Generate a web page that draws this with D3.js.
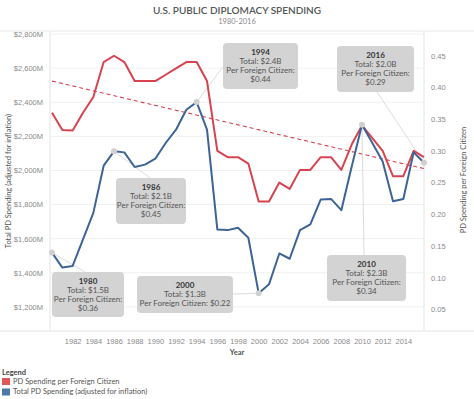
<!DOCTYPE html>
<meta charset="utf-8">
<head>
    <title>U.S. Public Diplomacy Spending</title>
    <script type="text/javascript" src="https://cdn.jsdelivr.net/npm/d3@7"></script>
    <style>
        body { margin: 0; background: #fff; font-family: Lato, "Open Sans", sans-serif; }
        .tick text { fill: #8a8a8a; font-size: 7.5px; }
        .domain { display: none; }
        .box-text { fill: #555; font-size: 8px; text-anchor: middle; dominant-baseline: middle; }
    </style>
</head>
<body>
<script>
    // data
    var years = d3.range(1980, 2017);
    var totalSpending = [1518, 1430, 1440, 1595, 1751, 2028, 2112, 2106, 2020, 2034,
        2069, 2161, 2239, 2356, 2401, 2239, 1654, 1650, 1664, 1605,
        1280, 1332, 1513, 1482, 1650, 1683, 1829, 1833, 1767, 2022,
        2268, 2161, 2053, 1819, 1833, 2106, 2045];
    var perCitizen = [0.36, 0.333, 0.332, 0.36, 0.385, 0.44, 0.45, 0.44, 0.41, 0.41,
        0.41, 0.42, 0.43, 0.44, 0.44, 0.41, 0.30, 0.29, 0.29, 0.28,
        0.22, 0.22, 0.25, 0.24, 0.27, 0.27, 0.29, 0.29, 0.27, 0.31,
        0.34, 0.32, 0.30, 0.26, 0.26, 0.30, 0.29];
    var trendYears = [1980, 2016];
    var trendValues = [0.41, 0.272];
    var leftTicks = [1200, 1400, 1600, 1800, 2000, 2200, 2400, 2600, 2800];
    var rightTicks = [0.05, 0.10, 0.15, 0.20, 0.25, 0.30, 0.35, 0.40, 0.45];
    var xTicks = d3.range(1982, 2015, 2);
    var annoYears = [1980, 1986, 1994, 2000, 2010, 2016];
    var annoTexts = [
        ["1980", "Total: $1.5B", "Per Foreign Citizen:", "$0.36"],
        ["1986", "Total: $2.1B", "Per Foreign Citizen:", "$0.45"],
        ["1994", "Total: $2.4B", "Per Foreign Citizen:", "$0.44"],
        ["2000", "Total: $1.3B", "Per Foreign Citizen: $0.22"],
        ["2010", "Total: $2.3B", "Per Foreign Citizen:", "$0.34"],
        ["2016", "Total: $2.0B", "Per Foreign Citizen:", "$0.29"]
    ];
    var legendLabels = ["PD Spending per Foreign Citizen", "Total PD Spending (adjusted for inflation)"];

    var width = 474, height = 399;
    var plot = {left: 50, right: 424, top: 31, bottom: 330};
    var red = "#d7434f", blue = "#3d6496";

    var svg = d3.select("body").append("svg")
        .attr("width", width)
        .attr("height", height);

    var x = d3.scaleLinear().domain([1980, 2016]).range([52, 424]);
    var yLeft = d3.scaleLinear().domain([1064, 2818]).range([plot.bottom, plot.top]);
    var yRight = d3.scaleLinear().domain([0.0175, 0.489]).range([plot.bottom, plot.top]);

    // title
    svg.append("text").attr("x", 237).attr("y", 14).attr("text-anchor", "middle")
        .style("font-size", "10px").style("font-weight", "600").style("fill", "#555")
        .text("U.S. PUBLIC DIPLOMACY SPENDING");
    svg.append("text").attr("x", 237).attr("y", 24).attr("text-anchor", "middle")
        .style("font-size", "7.5px").style("fill", "#888")
        .text("1980-2016");

    // frame lines
    svg.append("line").attr("x1", 0).attr("x2", width).attr("y1", plot.top).attr("y2", plot.top)
        .attr("stroke", "#e8e8e8");
    svg.append("line").attr("x1", 0).attr("x2", width).attr("y1", plot.bottom + 1).attr("y2", plot.bottom + 1)
        .attr("stroke", "#e3e3e3");
    [plot.left, plot.right].forEach(function(px) {
        svg.append("line").attr("x1", px).attr("x2", px).attr("y1", plot.top).attr("y2", plot.bottom)
            .attr("stroke", "#e3e3e3");
    });

    // gridlines
    svg.append("g").selectAll("line").data(leftTicks).enter().append("line")
        .attr("x1", plot.left).attr("x2", plot.right)
        .attr("y1", function(d) { return yLeft(d); })
        .attr("y2", function(d) { return yLeft(d); })
        .attr("stroke", "#f0f0f0");

    // axes
    svg.append("g").attr("transform", "translate(" + (plot.left - 4) + ",0)")
        .call(d3.axisLeft(yLeft).tickValues(leftTicks).tickSize(0)
            .tickFormat(function(d) { return "$" + d3.format(",")(d) + "M"; }));
    svg.append("g").attr("transform", "translate(" + (plot.right + 4) + ",0)")
        .call(d3.axisRight(yRight).tickValues(rightTicks).tickSize(0).tickFormat(d3.format(".2f")));
    svg.append("g").attr("transform", "translate(0," + (plot.bottom + 6) + ")")
        .call(d3.axisBottom(x).tickValues(xTicks).tickSize(0).tickFormat(d3.format("d")));

    svg.append("text").attr("transform", "translate(11,181) rotate(-90)").attr("text-anchor", "middle")
        .style("font-size", "7.5px").style("fill", "#555")
        .text("Total PD Spending (adjusted for inflation)");
    svg.append("text").attr("transform", "translate(466,180) rotate(-90)").attr("text-anchor", "middle")
        .style("font-size", "7.5px").style("fill", "#555")
        .text("PD Spending per Foreign Citizen");
    svg.append("text").attr("x", 237).attr("y", 355).attr("text-anchor", "middle")
        .style("font-size", "7.5px").style("font-weight", "700").style("fill", "#555")
        .text("Year");

    // trend line for per-citizen spending
    svg.append("line")
        .attr("x1", x(trendYears[0])).attr("y1", yRight(trendValues[0]))
        .attr("x2", x(trendYears[1])).attr("y2", yRight(trendValues[1]))
        .attr("stroke", red).attr("stroke-width", 1.1).attr("stroke-dasharray", "4,3");

    // annotation boxes (layout)
    var annoLayout = [
        {bx: 52, by: 272, bw: 72, bh: 45, ax: 85, ay: 272, series: "total"},
        {bx: 116, by: 178, bw: 70, bh: 46, ax: 150, ay: 178, series: "total"},
        {bx: 223, by: 43, bw: 75, bh: 46, ax: 223, ay: 67, series: "total"},
        {bx: 137, by: 276, bw: 96, bh: 37, ax: 233, ay: 294, series: "total"},
        {bx: 327, by: 255, bw: 79, bh: 46, ax: 364, ay: 255, series: "total"},
        {bx: 337, by: 46, bw: 77, bh: 46, ax: 377, ay: 92, series: "total"}
    ];

    var connectors = svg.append("g");
    annoYears.forEach(function(yr, i) {
        var L = annoLayout[i];
        var idx = years.indexOf(yr);
        connectors.append("line")
            .attr("x1", x(yr)).attr("y1", yLeft(totalSpending[idx]))
            .attr("x2", L.ax).attr("y2", L.ay)
            .attr("stroke", "#dcdcdc").attr("stroke-width", 1);
    });

    // lines
    var lineTotal = d3.line().x(function(d, i) { return x(years[i]); }).y(function(d) { return yLeft(d); });
    var linePer = d3.line().x(function(d, i) { return x(years[i]); }).y(function(d) { return yRight(d); });

    svg.append("path").datum(perCitizen).attr("d", linePer)
        .attr("fill", "none").attr("stroke", red).attr("stroke-width", 2).attr("stroke-linejoin", "round");
    svg.append("path").datum(totalSpending).attr("d", lineTotal)
        .attr("fill", "none").attr("stroke", blue).attr("stroke-width", 2).attr("stroke-linejoin", "round");

    // markers on annotated points
    svg.append("g").selectAll("circle").data(annoYears).enter().append("circle")
        .attr("cx", function(d) { return x(d); })
        .attr("cy", function(d) { return yLeft(totalSpending[years.indexOf(d)]); })
        .attr("r", 3).attr("fill", "#d0d0d0");

    var boxes = svg.append("g");
    annoYears.forEach(function(yr, i) {
        var L = annoLayout[i];
        var g = boxes.append("g");
        g.append("rect").attr("x", L.bx).attr("y", L.by).attr("width", L.bw).attr("height", L.bh)
            .attr("rx", 4).attr("fill", "#d3d3d3");
        annoTexts[i].forEach(function(t, j) {
            g.append("text").attr("class", "box-text")
                .attr("x", L.bx + L.bw / 2).attr("y", L.by + 9.5 + j * 9.3)
                .style("font-weight", j === 0 ? "700" : "400")
                .style("fill", j === 0 ? "#333" : "#555")
                .text(t);
        });
    });

    // legend
    svg.append("text").attr("x", 2).attr("y", 375).style("font-size", "7.5px")
        .style("font-weight", "700").style("fill", "#444").text("Legend");
    var leg = svg.append("g").selectAll("g").data(legendLabels).enter().append("g")
        .attr("transform", function(d, i) { return "translate(2," + (378 + i * 10.5) + ")"; });
    leg.append("rect").attr("width", 8).attr("height", 7)
        .attr("fill", function(d, i) { return i === 0 ? "#e15759" : "#4e79a7"; });
    leg.append("text").attr("x", 11).attr("y", 4).attr("dominant-baseline", "middle")
        .style("font-size", "7.5px").style("fill", "#555").text(function(d) { return d; });
</script>
</body>
</html>
